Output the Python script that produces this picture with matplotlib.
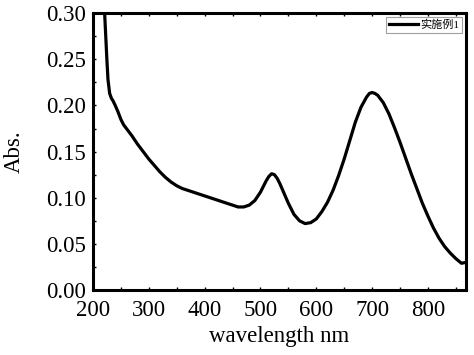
import matplotlib
matplotlib.use("Agg")
import matplotlib.pyplot as plt
from matplotlib.ticker import MultipleLocator

# wavelength (nm) and absorbance
wavelength = [221, 223, 225, 227, 230, 233, 236, 240, 245, 250, 255, 260, 270,
              280, 290, 300, 310, 320, 330, 340, 350, 360, 370, 380, 390, 400,
              420, 440, 450, 460, 470, 480, 490, 500, 505, 510, 515, 520, 525,
              530, 535, 540, 550, 560, 570, 580, 590, 600, 610, 620, 630, 640,
              650, 660, 670, 680, 690, 695, 700, 705, 710, 720, 730, 740, 750,
              760, 770, 780, 790, 800, 810, 820, 830, 840, 850, 860, 868]
absorbance = [0.300, 0.275, 0.250, 0.228, 0.213, 0.208, 0.205, 0.200, 0.193,
              0.185, 0.179, 0.175, 0.167, 0.158, 0.150, 0.142, 0.135, 0.128,
              0.122, 0.117, 0.113, 0.110, 0.108, 0.106, 0.104, 0.102, 0.098,
              0.094, 0.092, 0.090, 0.090, 0.092, 0.097, 0.106, 0.112, 0.118,
              0.123, 0.126, 0.125, 0.121, 0.115, 0.108, 0.094, 0.082, 0.075,
              0.072, 0.073, 0.077, 0.085, 0.095, 0.108, 0.124, 0.142, 0.162,
              0.182, 0.198, 0.209, 0.213, 0.214, 0.213, 0.211, 0.203, 0.191,
              0.176, 0.160, 0.143, 0.126, 0.110, 0.094, 0.080, 0.067, 0.056,
              0.047, 0.040, 0.034, 0.029, 0.030]
series_label = "实施例1"

plt.rcParams["font.family"] = ["Liberation Serif", "Noto Sans CJK SC"]

fig = plt.figure(figsize=(4.74, 3.55), dpi=100)
ax = fig.add_axes([0.196, 0.183, 0.787, 0.780])

ax.plot(wavelength, absorbance, color="black", linewidth=2.3, label=series_label)

ax.set_xlim(200, 868)
ax.set_ylim(0, 0.30)
ax.xaxis.set_major_locator(MultipleLocator(100))
ax.xaxis.set_minor_locator(MultipleLocator(50))
ax.yaxis.set_major_locator(MultipleLocator(0.05))
ax.yaxis.set_minor_locator(MultipleLocator(0.025))
ax.yaxis.set_major_formatter(plt.FormatStrFormatter("%.2f"))

for s in ax.spines.values():
    s.set_linewidth(2.2)

ax.tick_params(which="both", direction="out", width=1.8, labelsize=16.5)
ax.tick_params(axis="y", pad=5)
ax.tick_params(axis="x", pad=7)
ax.tick_params(which="major", length=4)
ax.tick_params(which="minor", length=3)
ax.tick_params(top=True, which="both", direction="in", length=2, width=1)

ax.set_xlabel("wavelength nm", fontsize=16.5, labelpad=4)
ax.set_ylabel("Abs.", fontsize=16.5, labelpad=15)

leg = ax.legend(loc="upper right", fontsize=8, frameon=True, fancybox=False,
                handlelength=2.6, borderpad=0.25, handletextpad=0.2,
                borderaxespad=0.35)
leg.get_frame().set_edgecolor("#888888")
leg.get_frame().set_linewidth(0.8)

fig.savefig("out.png", dpi=100)
